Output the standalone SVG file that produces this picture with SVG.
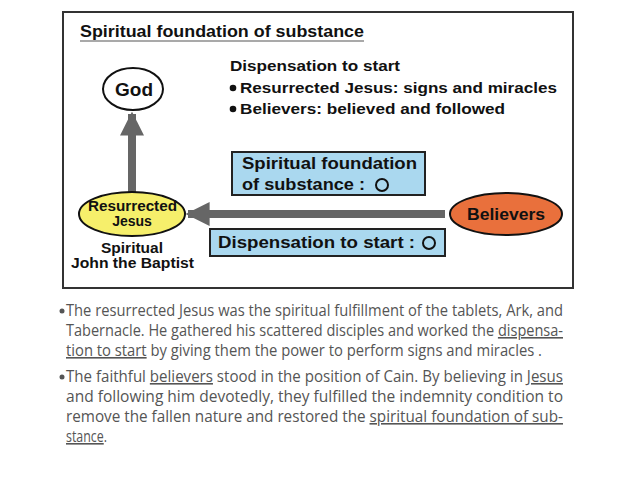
<svg xmlns="http://www.w3.org/2000/svg" width="638" height="479" viewBox="0 0 638 479">
<style>
.b{font-family:"Liberation Sans",Arial,sans-serif;font-weight:bold;fill:#111}
.p{font-family:"Open Sans","Noto Sans",sans-serif;font-size:16px;fill:#555}
.ul{text-decoration:underline}
.box{fill:#aad8ef;stroke:#222;stroke-width:2}
</style>
<defs>
<marker id="ah" viewBox="0 0 10 10" refX="9" refY="5" markerWidth="3" markerHeight="3" orient="auto-start-reverse" markerUnits="strokeWidth"><path d="M0,0 L10,5 L0,10 Z" fill="#666"/></marker>
</defs>
<rect width="638" height="479" fill="#fff"/>
<rect x="63" y="12" width="510" height="276" fill="#fff" stroke="#333" stroke-width="2"/>
<text class="b" x="80" y="37" font-size="16.5" textLength="284" lengthAdjust="spacingAndGlyphs">Spiritual foundation of substance</text>
<line x1="80" y1="41" x2="364" y2="41" stroke="#555" stroke-width="1.2"/>
<g id="notes" class="b" font-size="15.5">
<text x="230" y="71" textLength="170" lengthAdjust="spacingAndGlyphs">Dispensation to start</text>
<circle cx="233" cy="88" r="3.3" fill="#111"/>
<text x="240" y="93" textLength="317" lengthAdjust="spacingAndGlyphs">Resurrected Jesus: signs and miracles</text>
<circle cx="233" cy="109" r="3.3" fill="#111"/>
<text x="240" y="114" textLength="265" lengthAdjust="spacingAndGlyphs">Believers: believed and followed</text>
</g>
<g id="connectors">
<line x1="132" y1="194" x2="132" y2="114" stroke="#666" stroke-width="8" marker-end="url(#ah)"/>
<line x1="445" y1="214" x2="188" y2="214" stroke="#666" stroke-width="8" marker-end="url(#ah)"/>
</g>
<g id="god">
<ellipse cx="133" cy="89" rx="30" ry="21" fill="#fff" stroke="#111" stroke-width="2"/>
<text class="b" x="115" y="96" font-size="18" textLength="38" lengthAdjust="spacingAndGlyphs">God</text>
</g>
<g id="jesus">
<ellipse cx="132" cy="214" rx="53" ry="22" fill="#f6ef6b" stroke="#111" stroke-width="2"/>
<text class="b" x="88" y="211" font-size="14" textLength="89" lengthAdjust="spacingAndGlyphs" fill="#5a4a1a">Resurrected</text>
<text class="b" x="132" y="226" font-size="14" text-anchor="middle" fill="#5a4a1a">Jesus</text>
<text class="b" x="101" y="253" font-size="14" textLength="62" lengthAdjust="spacingAndGlyphs">Spiritual</text>
<text class="b" x="71" y="268" font-size="14" textLength="123" lengthAdjust="spacingAndGlyphs">John the Baptist</text>
</g>
<g id="believers">
<ellipse cx="506" cy="214" rx="56" ry="21" fill="#e9703c" stroke="#111" stroke-width="2"/>
<text class="b" x="467" y="220" font-size="16" textLength="78" lengthAdjust="spacingAndGlyphs">Believers</text>
</g>
<g id="sfs">
<rect class="box" x="232" y="152" width="193" height="43"/>
<text class="b" x="242" y="169" font-size="16" textLength="175" lengthAdjust="spacingAndGlyphs">Spiritual foundation</text>
<text class="b" x="242" y="190" font-size="16" textLength="123" lengthAdjust="spacingAndGlyphs">of substance :</text>
<circle cx="382" cy="185" r="6" fill="none" stroke="#111" stroke-width="2"/>
</g>
<g id="dts">
<rect class="box" x="210" y="229" width="235" height="27"/>
<text class="b" x="218" y="248" font-size="16" textLength="197" lengthAdjust="spacingAndGlyphs">Dispensation to start :</text>
<circle cx="429" cy="243" r="6" fill="none" stroke="#111" stroke-width="2"/>
</g>
<g id="para">
<circle cx="62" cy="311" r="2.5" fill="#555"/>
<text class="p" x="66" y="316" textLength="497" lengthAdjust="spacingAndGlyphs">The resurrected Jesus was the spiritual fulfillment of the tablets, Ark, and</text>
<text class="p" x="66" y="336" textLength="497" lengthAdjust="spacingAndGlyphs">Tabernacle. He gathered his scattered disciples and worked the <tspan class="ul">dispensa-</tspan></text>
<text class="p" x="66" y="356" textLength="476" lengthAdjust="spacingAndGlyphs"><tspan class="ul">tion to start</tspan> by giving them the power to perform signs and miracles .</text>
<circle cx="62" cy="377" r="2.5" fill="#555"/>
<text class="p" x="66" y="382" textLength="497" lengthAdjust="spacingAndGlyphs">The faithful <tspan class="ul">believers</tspan> stood in the position of Cain. By believing in <tspan class="ul">Jesus</tspan></text>
<text class="p" x="66" y="402" textLength="497" lengthAdjust="spacingAndGlyphs">and following him devotedly, they fulfilled the indemnity condition to</text>
<text class="p" x="66" y="422" textLength="497" lengthAdjust="spacingAndGlyphs">remove the fallen nature and restored the <tspan class="ul">spiritual foundation of sub-</tspan></text>
<text class="p" x="66" y="442" textLength="41" lengthAdjust="spacingAndGlyphs"><tspan class="ul">stance</tspan>.</text>
</g>
</svg>
